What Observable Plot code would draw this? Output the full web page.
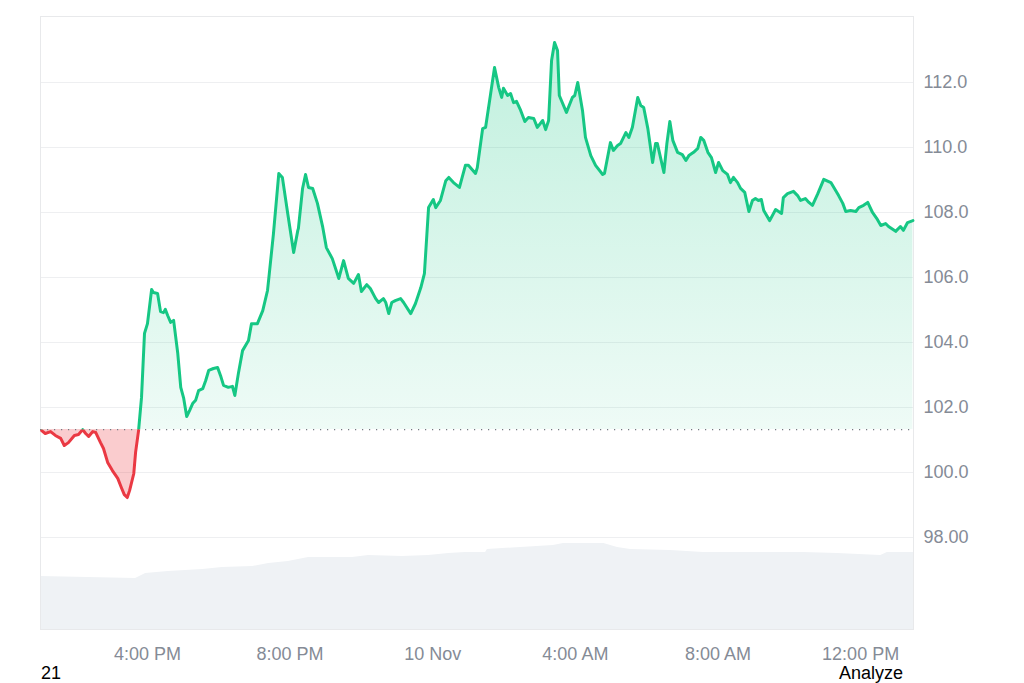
<!DOCTYPE html>
<html>
<head>
<meta charset="utf-8">
<script src="https://cdn.jsdelivr.net/npm/d3@7"></script>
<script src="https://cdn.jsdelivr.net/npm/@observablehq/plot@0.6"></script>
<style>
  html, body { margin: 0; padding: 0; background: #ffffff; }
  #wrap { position: relative; width: 1024px; height: 683px; overflow: hidden; font-family: "Liberation Sans", Arial, sans-serif; }
  #wrap svg { position: absolute; left: 0; top: 0; }
  .foot { position: absolute; font-size: 18px; line-height: 18px; color: #000; white-space: nowrap; }
</style>
</head>
<body>
<div id="wrap"></div>
<script>
// ---- data ----
const startTime = new Date(2024, 10, 9, 13, 0); // 9 Nov, 1:00 PM
const endMinute = 1469;
const baseline = 101.32;

// minutes after start
const minutes = [
  2,8,17,25,34,40,47,57,64,71,
  76,81,88,93,101,106,113,121,130,136,
  141,146,150,157,160,165,170,175,180,187,
  190,197,202,207,210,214,219,224,231,236,
  241,246,251,256,261,266,273,278,283,291,
  298,303,308,316,323,327,333,340,347,350,
  355,365,374,382,385,392,401,407,416,426,
  433,434,441,446,451,458,466,475,481,491,
  502,510,518,527,535,540,549,555,564,569,
  577,581,586,591,597,606,611,623,631,640,
  646,653,661,665,673,682,687,695,705,715,
  720,732,735,744,749,757,764,771,776,779,
  786,791,796,801,808,815,821,830,836,845,
  850,855,860,865,870,873,885,895,899,904,
  912,917,926,934,946,949,959,964,971,976,
  985,990,996,1005,1010,1015,1022,1030,1035,1038,
  1049,1054,1059,1064,1072,1080,1086,1091,1099,1106,
  1111,1116,1123,1129,1136,1141,1148,1156,1161,1166,
  1173,1178,1185,1192,1198,1203,1208,1213,1217,1227,
  1237,1247,1250,1257,1267,1274,1279,1287,1293,1299,
  1308,1318,1330,1336,1343,1350,1355,1363,1372,1377,
  1385,1392,1400,1407,1414,1422,1427,1439,1447,1452,
  1459,1468
];
const prices = [
  101.29,101.20,101.26,101.14,101.05,100.83,100.92,101.14,101.17,101.32,
  101.20,101.11,101.26,101.23,100.92,100.74,100.31,100.06,99.82,99.54,
  99.32,99.23,99.45,99.97,100.62,101.29,102.31,104.28,104.58,105.63,
  105.54,105.51,104.95,104.92,105.02,104.83,104.62,104.68,103.66,102.62,
  102.28,101.72,101.91,102.12,102.22,102.52,102.58,102.83,103.14,103.20,
  103.23,102.98,102.68,102.62,102.65,102.37,103.05,103.75,103.97,104.06,
  104.58,104.58,104.98,105.60,106.12,107.35,109.20,109.08,107.97,106.77,
  107.45,107.51,108.74,109.17,108.77,108.74,108.28,107.54,106.92,106.58,
  105.97,106.52,105.97,105.82,106.09,105.57,105.78,105.66,105.35,105.23,
  105.35,105.23,104.89,105.23,105.29,105.35,105.23,104.89,105.20,105.69,
  106.12,108.15,108.40,108.15,108.37,108.98,109.08,108.92,108.77,109.45,
  109.45,109.20,109.38,110.58,110.62,111.60,112.46,111.85,111.54,111.82,
  111.60,111.66,111.38,111.42,111.14,110.80,110.92,110.89,110.62,110.83,
  110.55,110.83,112.68,113.23,112.98,111.60,111.08,111.54,111.60,112.00,
  111.14,110.31,109.75,109.45,109.17,109.20,110.15,109.91,110.06,110.12,
  110.46,110.31,110.62,111.54,111.29,111.23,110.58,109.54,110.12,110.12,
  109.23,110.12,110.80,110.22,109.85,109.78,109.60,109.75,109.85,109.97,
  110.31,110.22,109.85,109.69,109.23,109.54,109.29,109.17,108.92,109.08,
  108.92,108.74,108.62,108.03,108.37,108.43,108.37,108.40,108.06,107.75,
  108.09,107.97,108.46,108.58,108.65,108.52,108.37,108.43,108.31,108.22,
  108.58,109.02,108.92,108.74,108.52,108.28,108.03,108.06,108.03,108.15,
  108.22,108.31,108.00,107.82,107.60,107.66,107.57,107.42,107.57,107.45,
  107.69,107.75
];

// volume (relative units, 0-100)
const volMinutes = [0,160,177,215,273,306,357,384,417,451,525,552,609,653,687,715,749,752,808,863,880,948,971,993,1060,1116,1173,1284,1341,1414,1425,1469];
const volumes    = [57.6,55.4,60.9,63.0,65.2,67.4,68.5,71.7,73.9,78.3,78.3,80.4,79.3,80.4,82.6,83.7,83.7,87.0,89.1,91.3,93.5,93.5,89.1,87.0,85.9,83.7,83.7,83.7,82.6,80.4,83.7,83.7];

const yTicks = [98, 100, 102, 104, 106, 108, 110, 112];
const yTickLabels = ["98.00", "100.0", "102.0", "104.0", "106.0", "108.0", "110.0", "112.0"];
const xTickHours = [3, 7, 11, 15, 19, 23]; // hours after start
const xTickLabels = ["4:00 PM", "8:00 PM", "10 Nov", "4:00 AM", "8:00 AM", "12:00 PM"];

// ---- build ----
const at = m => new Date(+startTime + m * 60000);
const data = minutes.map((m, i) => ({t: at(m), p: prices[i]}));
const volData = volMinutes.map((m, i) => ({t: at(m), v: volumes[i]}));
const xDomain = [startTime, at(endMinute)];
const xTicks = xTickHours.map(h => at(h * 60));
const xLabelMap = new Map(xTicks.map((d, i) => [+d, xTickLabels[i]]));
const yLabelMap = new Map(yTicks.map((d, i) => [d, yTickLabels[i]]));

const W = 1024, H = 670;
const M = {marginTop: 16, marginBottom: 41, marginLeft: 40, marginRight: 111};
const GREEN = "#16c784", RED = "#ea3943";

const volPlot = Plot.plot({
  width: W, height: H,
  marginTop: 537, marginBottom: M.marginBottom, marginLeft: M.marginLeft, marginRight: M.marginRight,
  style: {background: "transparent"},
  x: {type: "time", domain: xDomain, axis: null},
  y: {domain: [0, 100], axis: null},
  marks: [
    Plot.areaY(volData, {x: "t", y: "v", fill: "#eff2f5", curve: "linear"})
  ]
});

const main = Plot.plot({
  width: W, height: H, ...M,
  style: {background: "transparent", fontFamily: "Liberation Sans, Arial, sans-serif", fontSize: "18px", color: "#858b96", overflow: "visible"},
  x: {type: "time", domain: xDomain, ticks: xTicks, tickFormat: d => xLabelMap.get(+d), tickSize: 0, tickPadding: 18, label: null},
  y: {domain: [95.17, 114.03], axis: "right", ticks: yTicks, tickFormat: d => yLabelMap.get(d), tickSize: 0, tickPadding: 10, label: null},
  marks: [
    Plot.ruleY(yTicks, {stroke: "#eeeff1", strokeWidth: 1}),
    Plot.frame({stroke: "#e8e9eb"}),
    Plot.areaY(data, {x: "t", y1: baseline, y2: "p", fill: "url(#gradUp)"}),
    Plot.areaY(data, {x: "t", y1: baseline, y2: "p", fill: RED, fillOpacity: 0.26}),
    Plot.ruleY([baseline], {stroke: "#767a82", strokeWidth: 1.2, strokeDasharray: "1.2,5.8"}),
    Plot.line(data, {x: "t", y: "p", stroke: GREEN, strokeWidth: 3, strokeLinejoin: "round"}),
    Plot.line(data, {x: "t", y: "p", stroke: RED, strokeWidth: 3, strokeLinejoin: "round"})
  ]
});

// clip paths split at the baseline, using the plot's own y scale
const ys = main.scale("y");
const yb = ys.apply(baseline);
const yTop = ys.apply(113.3);
const defs = document.createElementNS("http://www.w3.org/2000/svg", "defs");
defs.innerHTML = `
  <linearGradient id="gradUp" gradientUnits="userSpaceOnUse" x1="0" y1="${yTop}" x2="0" y2="${yb}">
    <stop offset="0" stop-color="${GREEN}" stop-opacity="0.27"/>
    <stop offset="1" stop-color="${GREEN}" stop-opacity="0.07"/>
  </linearGradient>
  <clipPath id="clipUp"><rect x="0" y="0" width="${W}" height="${yb}"/></clipPath>
  <clipPath id="clipDown"><rect x="0" y="${yb}" width="${W}" height="${H - yb}"/></clipPath>`;
main.insertBefore(defs, main.firstChild);
const areas = main.querySelectorAll('g[aria-label="area"]');
const lines = main.querySelectorAll('g[aria-label="line"]');
areas[0].setAttribute("clip-path", "url(#clipUp)");
areas[1].setAttribute("clip-path", "url(#clipDown)");
lines[0].setAttribute("clip-path", "url(#clipUp)");
lines[1].setAttribute("clip-path", "url(#clipDown)");

const wrap = document.getElementById("wrap");
wrap.appendChild(volPlot);
wrap.appendChild(main);

const f1 = document.createElement("div");
f1.className = "foot"; f1.textContent = "21";
f1.style.left = "41px"; f1.style.top = "664px";
const f2 = document.createElement("div");
f2.className = "foot"; f2.textContent = "Analyze";
f2.style.left = "839px"; f2.style.top = "664px";
wrap.appendChild(f1); wrap.appendChild(f2);
</script>
</body>
</html>
